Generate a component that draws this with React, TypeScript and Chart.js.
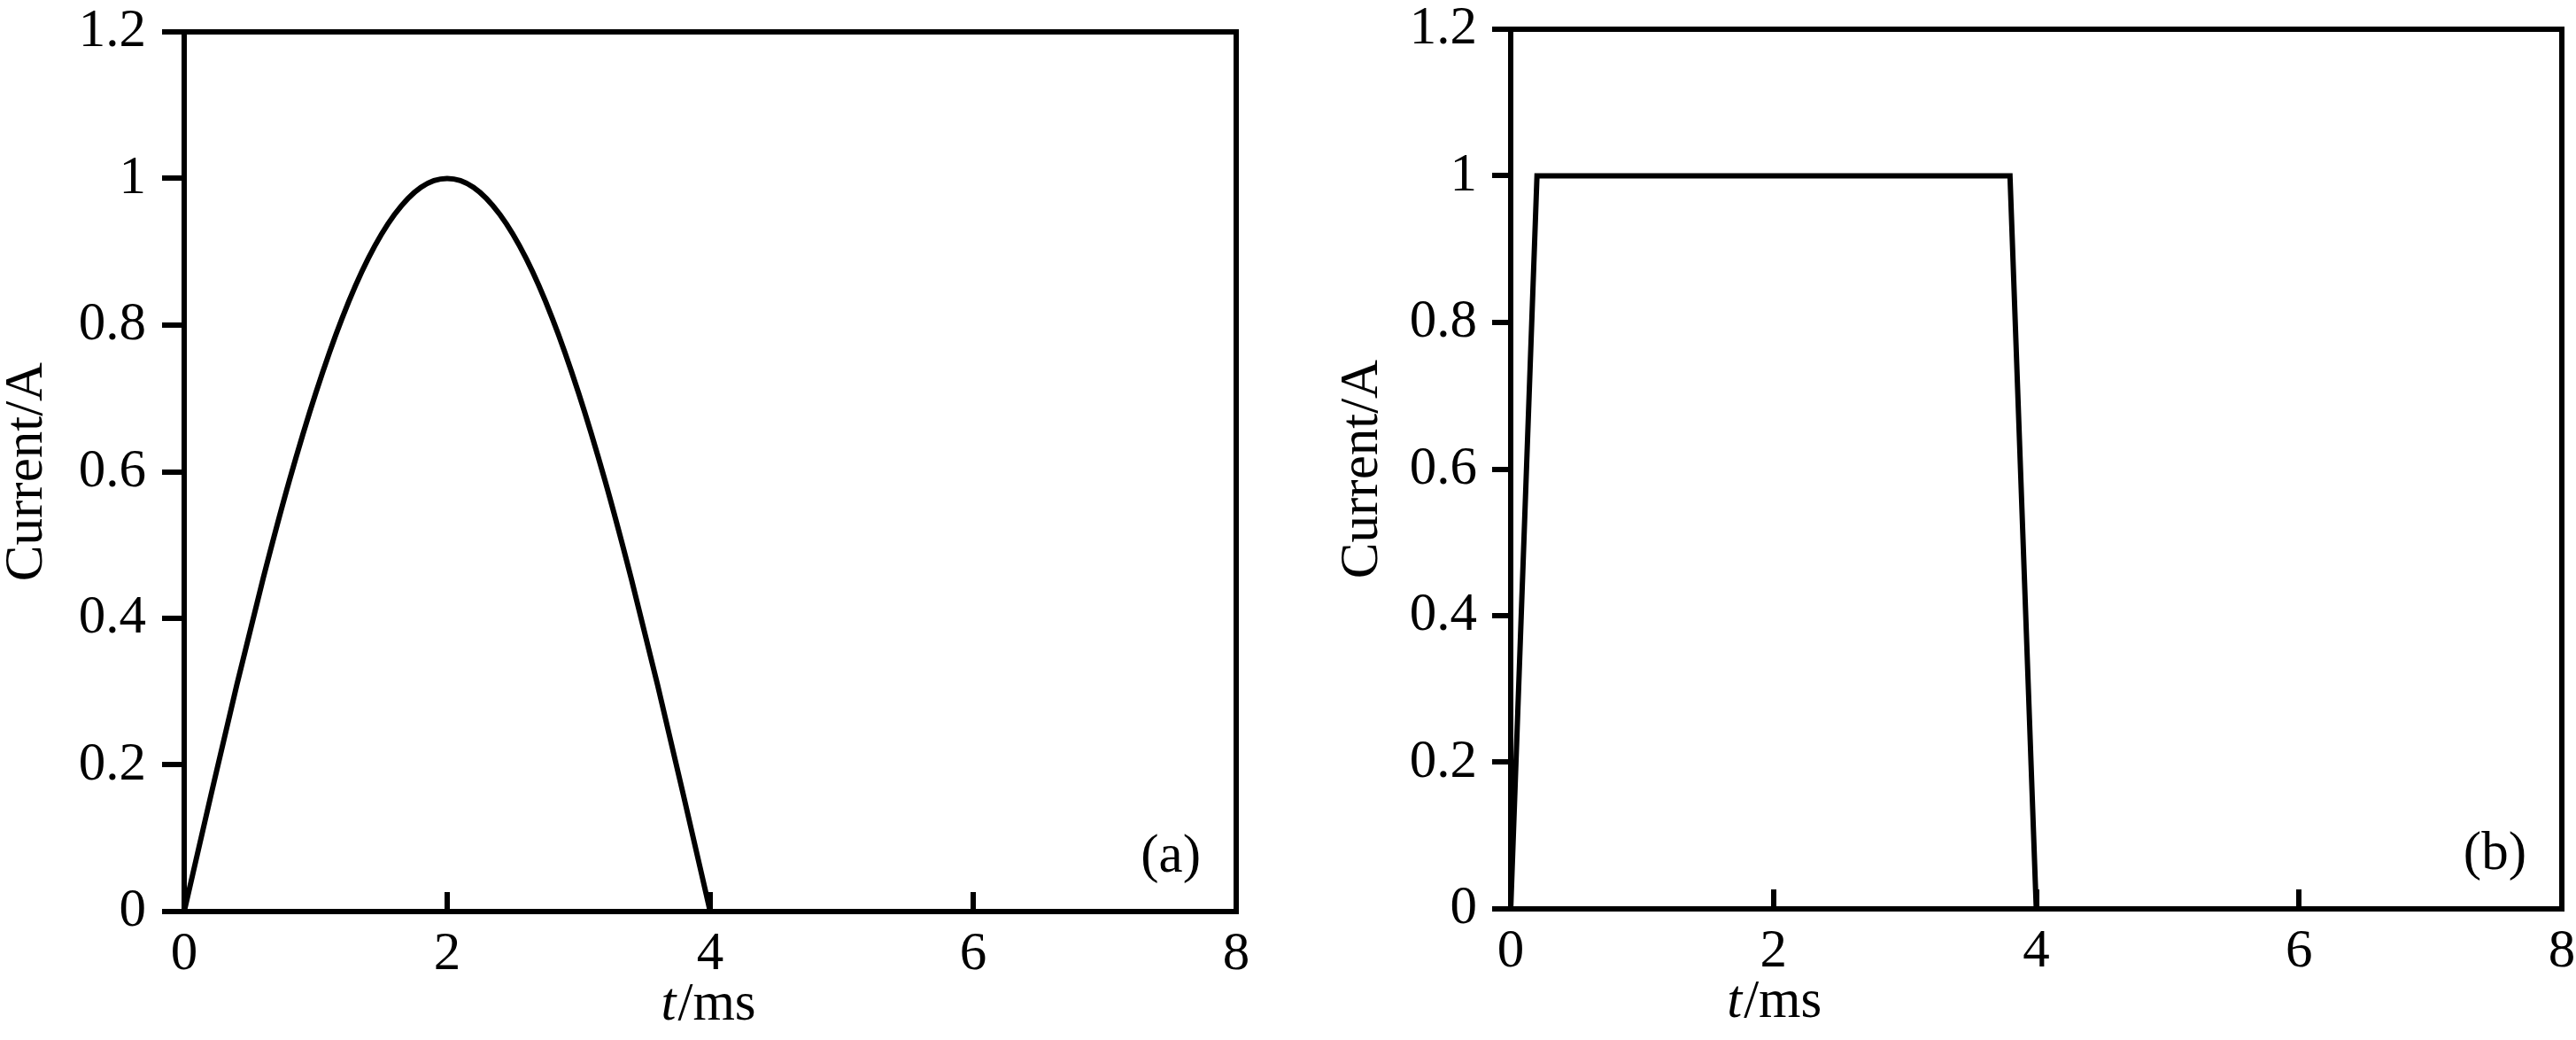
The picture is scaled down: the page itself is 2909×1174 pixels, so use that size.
import React, { useEffect, useRef } from "react";
import { Chart, registerables } from "chart.js";

Chart.register(...registerables);

// ---- data ----
const xTicks = [0, 2, 4, 6, 8];
const yTicks = [0, 0.2, 0.4, 0.6, 0.8, 1, 1.2];

// (a) half-sine current pulse
const timeA = [0, 0.2, 0.4, 0.6, 0.8, 1.0, 1.2, 1.4, 1.6, 1.8, 2.0, 2.2, 2.4, 2.6, 2.8, 3.0, 3.2, 3.4, 3.6, 3.8, 4.0];
const currentA = [0, 0.156, 0.309, 0.454, 0.588, 0.707, 0.809, 0.891, 0.951, 0.988, 1.0, 0.988, 0.951, 0.891, 0.809, 0.707, 0.588, 0.454, 0.309, 0.156, 0];
const timeATail = [4, 8];
const currentATail = [0, 0];

// (b) trapezoidal current pulse
const timeB = [0, 0.2, 3.8, 4, 8];
const currentB = [0, 1, 1, 0, 0];

const FONT = '"Liberation Serif", "Times New Roman", serif';
const FS = 61;
const LW = 6;

type PanelCfg = {
  label: string;
  canvasW: number;
  area: { left: number; top: number; right: number; bottom: number };
  yTickLen: number;
  yTickPad: number;
  yTitlePad: number;
  xTitleAt: number;
  series: { x: number; y: number }[][];
  smooth: boolean[];
};

const toPts = (xs: number[], ys: number[]) => xs.map((x, i) => ({ x, y: ys[i] }));

const panelText = {
  id: "panelText",
  afterDraw(chart: any, _args: any, opts: any) {
    const ctx = chart.ctx;
    const { right, bottom } = chart.chartArea;
    ctx.save();
    ctx.fillStyle = "#000";
    ctx.textBaseline = "alphabetic";
    const italic = `italic ${FS}px ${FONT}`;
    const normal = `${FS}px ${FONT}`;
    ctx.font = italic;
    const w1 = ctx.measureText("t").width;
    ctx.font = normal;
    const w2 = ctx.measureText("/ms").width;
    const cx = chart.scales.x.getPixelForValue(opts.titleAt);
    const x0 = cx - (w1 + w2) / 2;
    const y = bottom + 122;
    ctx.textAlign = "left";
    ctx.font = italic;
    ctx.fillText("t", x0, y);
    ctx.font = normal;
    ctx.fillText("/ms", x0 + w1 + 2, y);
    ctx.textAlign = "right";
    ctx.fillText(opts.label, right - 40, bottom - 45);
    ctx.restore();
  },
};

function Panel({ cfg, left }: { cfg: PanelCfg; left: number }) {
  const ref = useRef<HTMLCanvasElement>(null);
  useEffect(() => {
    if (!ref.current) return;
    const H = 1174;
    const a = cfg.area;
    const adj = { left: a.left, bottom: H - a.bottom };
    const pad = { left: 0, top: a.top, right: cfg.canvasW - a.right, bottom: 0 };
    const border = { display: true, color: "#000", width: LW };
    const noPad = (s: any) => {
      s.paddingTop = 0;
      s.paddingBottom = 0;
      s.paddingLeft = 0;
      s.paddingRight = 0;
    };
    const chart = new Chart(ref.current, {
      type: "line",
      data: {
        datasets: cfg.series.map((pts, i) => ({
          data: pts,
          borderColor: "#000",
          borderWidth: LW,
          pointRadius: 0,
          fill: false,
          cubicInterpolationMode: cfg.smooth[i] ? "monotone" : "default",
          tension: 0,
          borderJoinStyle: "miter",
        })),
      },
      plugins: [panelText],
      options: {
        animation: false,
        responsive: false,
        maintainAspectRatio: false,
        events: [],
        layout: { autoPadding: false, padding: { ...pad } },
        plugins: {
          legend: { display: false },
          tooltip: { enabled: false },
          panelText: { label: cfg.label, titleAt: cfg.xTitleAt },
        } as any,
        scales: {
          x: {
            type: "linear",
            position: "bottom",
            min: 0,
            max: 8,
            afterBuildTicks: (s: any) => {
              s.ticks = xTicks.map((v) => ({ value: v }));
            },
            afterFit: (s: any) => {
              s.height = adj.bottom;
              noPad(s);
            },
            grid: {
              display: true,
              drawOnChartArea: false,
              drawTicks: true,
              tickLength: -22,
              color: "#000",
              lineWidth: LW,
            },
            border,
            ticks: {
              padding: 34,
              color: "#000",
              font: { family: FONT, size: FS },
              maxRotation: 0,
              callback: (v: any) => String(v),
            },
          },
          y: {
            type: "linear",
            position: "left",
            min: 0,
            max: 1.2,
            afterBuildTicks: (s: any) => {
              s.ticks = yTicks.map((v) => ({ value: v }));
            },
            afterFit: (s: any) => {
              s.width = adj.left;
              noPad(s);
            },
            grid: {
              display: true,
              drawOnChartArea: false,
              drawTicks: true,
              tickLength: cfg.yTickLen,
              color: "#000",
              lineWidth: LW,
            },
            border,
            ticks: {
              padding: cfg.yTickPad,
              color: "#000",
              font: { family: FONT, size: FS },
              callback: (v: any) => String(Math.round(Number(v) * 10) / 10),
            },
            title: {
              display: true,
              text: "Current/A",
              color: "#000",
              font: { family: FONT, size: FS, lineHeight: 1 },
              padding: { top: cfg.yTitlePad, bottom: 0 },
            },
          },
          x2: {
            type: "linear",
            position: "top",
            min: 0,
            max: 8,
            grid: { display: false },
            ticks: { display: false },
            border,
            afterFit: (s: any) => {
              s.height = 0;
              noPad(s);
            },
          },
          y2: {
            type: "linear",
            position: "right",
            min: 0,
            max: 1.2,
            grid: { display: false },
            ticks: { display: false },
            border,
            afterFit: (s: any) => {
              s.width = 0;
              noPad(s);
            },
          },
        },
      } as any,
    });
    // calibrate the layout so the plot frame lands where the reference has it
    for (let i = 0; i < 4; i++) {
      const ca = chart.chartArea;
      const dT = a.top - ca.top;
      const dR = a.right - ca.right;
      const dL = a.left - ca.left;
      const dB = a.bottom - ca.bottom;
      if (Math.abs(dT) + Math.abs(dR) + Math.abs(dL) + Math.abs(dB) < 0.5) break;
      pad.top += dT;
      pad.right -= dR;
      adj.left += dL;
      adj.bottom -= dB;
      (chart.options as any).layout.padding = { ...pad };
      chart.update();
    }
    return () => chart.destroy();
  }, [cfg]);
  return (
    <canvas
      ref={ref}
      width={cfg.canvasW}
      height={1174}
      style={{ position: "absolute", left, top: 0, width: cfg.canvasW, height: 1174 }}
    />
  );
}

const panelA: PanelCfg = {
  label: "(a)",
  canvasW: 1454,
  area: { left: 208, top: 36, right: 1396, bottom: 1029 },
  yTickLen: 25,
  yTickPad: 18,
  yTitlePad: 0,
  xTitleAt: 3.98,
  series: [toPts(timeA, currentA), toPts(timeATail, currentATail)],
  smooth: [true, false],
};

const panelB: PanelCfg = {
  label: "(b)",
  canvasW: 1455,
  area: { left: 252, top: 33, right: 1439, bottom: 1026 },
  yTickLen: 21,
  yTickPad: 17,
  yTitlePad: 54,
  xTitleAt: 2.0,
  series: [toPts(timeB, currentB)],
  smooth: [false],
};

export default function App() {
  return (
    <div style={{ position: "absolute", left: 0, top: 0, width: 2909, height: 1174, background: "#fff" }}>
      <Panel cfg={panelA} left={0} />
      <Panel cfg={panelB} left={1454} />
    </div>
  );
}
